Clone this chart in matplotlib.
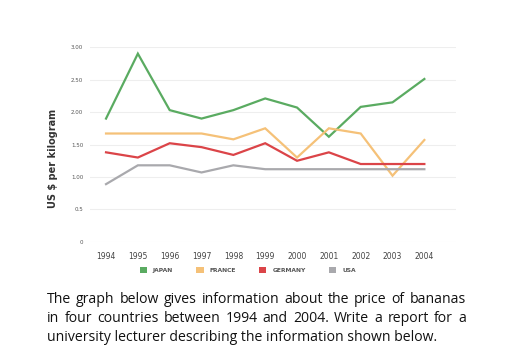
import numpy as np
import matplotlib.pyplot as plt
from matplotlib.patches import Patch

years = [1994, 1995, 1996, 1997, 1998, 1999, 2000, 2001, 2002, 2003, 2004]
japan = [1.90, 2.90, 2.03, 1.90, 2.03, 2.21, 2.07, 1.62, 2.08, 2.15, 2.51]
france = [1.67, 1.67, 1.67, 1.67, 1.58, 1.75, 1.30, 1.75, 1.67, 1.02, 1.57]
germany = [1.38, 1.30, 1.52, 1.46, 1.34, 1.52, 1.25, 1.38, 1.20, 1.20, 1.20]
usa = [0.89, 1.18, 1.18, 1.07, 1.18, 1.12, 1.12, 1.12, 1.12, 1.12, 1.12]

series_names = ["JAPAN", "FRANCE", "GERMANY", "USA"]
series_colors = ["#5aab61", "#f5c178", "#db4448", "#a9a9ad"]

y_ticks = [0, 0.5, 1.0, 1.5, 2.0, 2.5, 3.0]
y_tick_labels = ["0", "0.5", "1.00", "1.50", "2.00", "2.50", "3.00"]

caption = ["The graph below gives information about the price of bananas",
           "in four countries between 1994 and 2004. Write a report for a",
           "university lecturer describing the information shown below."]

fig = plt.figure(figsize=(5.12, 3.6), dpi=100)
ax = fig.add_axes([0.176, 0.328, 0.715, 0.541])

for vals, color in zip([japan, france, germany, usa], series_colors):
    ax.plot(years, vals, color=color, linewidth=1.6, solid_joinstyle='miter')

ax.set_xlim(1993.5, 2005.0)
ax.set_ylim(0, 3)
ax.set_yticks(y_ticks)
ax.set_yticklabels(y_tick_labels, fontsize=4, color='#555555')
ax.set_xticks(years)
ax.set_xticklabels([str(y) for y in years], fontsize=5.5, color='#444444')
ax.tick_params(axis='both', length=0, pad=5)
ax.tick_params(axis='x', pad=7)
ax.grid(axis='y', color='#eeeeee', linewidth=0.8)
ax.set_axisbelow(True)
for s in ax.spines.values():
    s.set_visible(False)
ax.set_ylabel("US $ per kilogram", fontsize=7, fontweight='bold', color='#333333')
ax.yaxis.set_label_coords(-0.087, 0.43)

handles = [Patch(facecolor=c, edgecolor='none') for c in series_colors]
leg = fig.legend(handles, series_names, loc='center', bbox_to_anchor=(0.484, 0.25), ncol=4,
                 frameon=False, handlelength=1.2, handleheight=1.2, columnspacing=3.9,
                 handletextpad=1.0, prop={'size': 4.3, 'weight': 'bold'})
for t in leg.get_texts():
    t.set_color('#555555')

# caption, justified by hand like the reference
fig.canvas.draw()
renderer = fig.canvas.get_renderer()
x0, x1 = 47 / 512, 466 / 512
cap_font = dict(fontsize=10.1, family='Open Sans', color='#111111', va='center')
for i, line in enumerate(caption):
    y = 0.169 - i * 0.053
    words = line.split()
    if i == len(caption) - 1:
        fig.text(x0, y, line, **cap_font)
        continue
    texts = [fig.text(0, y, w, **cap_font) for w in words]
    widths = [t.get_window_extent(renderer).width / fig.bbox.width for t in texts]
    gap = (x1 - x0 - sum(widths)) / (len(words) - 1)
    x = x0
    for t, w in zip(texts, widths):
        t.set_x(x)
        x += w + gap

fig.savefig("out.png", dpi=100)
